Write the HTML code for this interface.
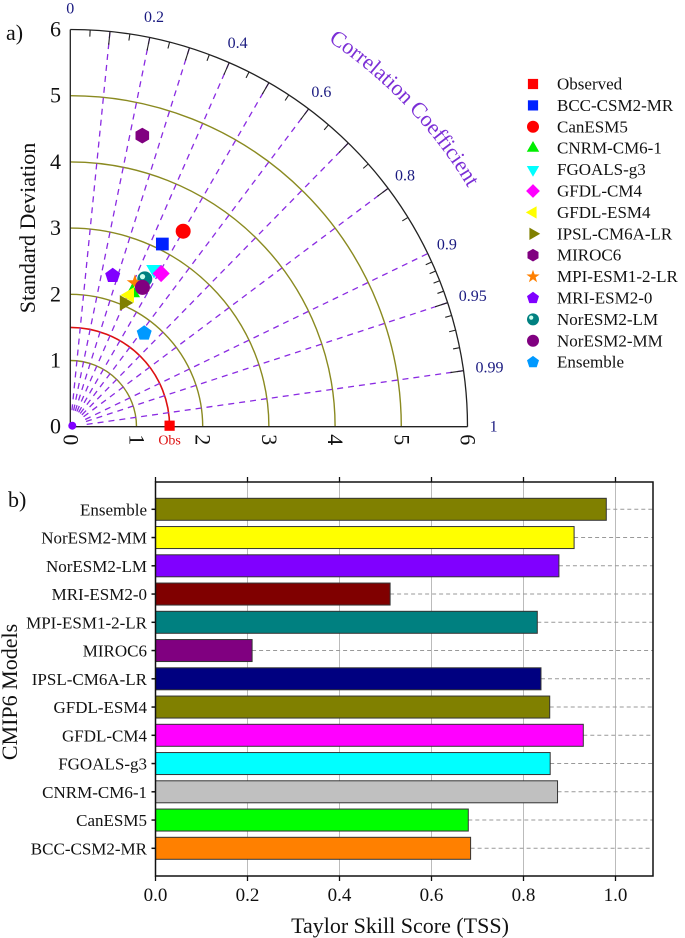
<!DOCTYPE html>
<html><head><meta charset="utf-8"><style>
html,body{margin:0;padding:0;background:#fff}
svg{display:block;font-family:"Liberation Serif",serif}
</style></head><body>
<svg id="fig" width="685" height="938" viewBox="0 0 685 938" xmlns="http://www.w3.org/2000/svg">
<g id="taylor"></g>
<g id="legend"></g>
<g id="bars"></g>
</svg>
<script>
// ---- Taylor diagram data ----
const models = ["Observed","BCC-CSM2-MR","CanESM5","CNRM-CM6-1","FGOALS-g3","GFDL-CM4","GFDL-ESM4","IPSL-CM6A-LR","MIROC6","MPI-ESM1-2-LR","MRI-ESM2-0","NorESM2-LM","NorESM2-MM","Ensemble"];
const stdDev = [1.5,3.09,3.41,2.23,2.69,2.69,2.18,2.04,4.53,2.38,2.37,2.50,2.37,1.80];
const corr   = [1.0,0.45,0.50,0.42,0.47,0.51,0.41,0.40,0.24,0.41,0.27,0.45,0.46,0.62];
const markerShape = ["square","square","circle","triUp","triDown","diamond","triLeft","triRight","hexagon","star","pentagon","sphere","circle","pentagon"];
const markerColor = ["#ff0000","#0022ff","#ff0000","#00ee00","#00ffff","#ff00ff","#ffff00","#808000","#800080","#ff8000","#8000ff","#008080","#800080","#0099ff"];
const corrTicks = [0.1,0.2,0.3,0.4,0.5,0.6,0.7,0.8,0.9,0.95,0.99];
const corrLabels = ["0","0.2","0.4","0.6","0.8","0.9","0.95","0.99","1"];
const sdTicks = [0,1,2,3,4,5,6];
// ---- bar chart data ----
const barCats = ["Ensemble","NorESM2-MM","NorESM2-LM","MRI-ESM2-0","MPI-ESM1-2-LR","MIROC6","IPSL-CM6A-LR","GFDL-ESM4","GFDL-CM4","FGOALS-g3","CNRM-CM6-1","CanESM5","BCC-CSM2-MR"];
const tss = [0.98,0.91,0.877,0.51,0.83,0.21,0.838,0.857,0.93,0.858,0.874,0.68,0.685];
const barColors = ["#808000","#ffff00","#8000ff","#800000","#008080","#800080","#000080","#808000","#ff00ff","#00ffff","#c0c0c0","#00ff00","#ff8000"];
const xTicks = [0,0.2,0.4,0.6,0.8,1.0];

const NS="http://www.w3.org/2000/svg";
function mk(parent,tag,attrs,text){const e=document.createElementNS(NS,tag);for(const k in attrs)e.setAttribute(k,attrs[k]);if(text!==undefined)e.textContent=text;parent.appendChild(e);return e;}

const OX=70.3, OY=426.7, S=66.2, RMAX=6;
const px=(r,c)=>OX+r*c*S;
const py=(r,c)=>OY-r*Math.sqrt(Math.max(0,1-c*c))*S;
const T=document.getElementById('taylor');

[1,2,3,4,5].forEach(r=>{
  const a=mk(T,'path',{d:`M${OX} ${OY-r*S} A${r*S} ${r*S} 0 0 1 ${OX+r*S} ${OY}`,fill:'none',stroke:'#8a8a20','stroke-width':1.4});
  
  
});
const ro=mk(T,'path',{d:`M${OX} ${OY-stdDev[0]*S} A${stdDev[0]*S} ${stdDev[0]*S} 0 0 1 ${OX+stdDev[0]*S} ${OY}`,fill:'none',stroke:'#dd1111','stroke-width':1.6});


corrTicks.forEach(c=>{
  const l=mk(T,'line',{x1:px(0.25,c),y1:py(0.25,c),x2:px(RMAX,c),y2:py(RMAX,c),stroke:'#8a2be2','stroke-width':1.3,'stroke-dasharray':'6,5'});
  
  
});
const oa=mk(T,'path',{d:`M${OX} ${OY-RMAX*S} A${RMAX*S} ${RMAX*S} 0 0 1 ${OX+RMAX*S} ${OY}`,fill:'none',stroke:'#222','stroke-width':1.3});


const ya=mk(T,'line',{x1:OX,y1:OY,x2:OX,y2:OY-RMAX*S,stroke:'#222','stroke-width':1.3});


const xa=mk(T,'line',{x1:OX,y1:OY,x2:OX+RMAX*S,y2:OY,stroke:'#222','stroke-width':1.3});


const tickVals=[];for(let i=1;i<18;i++)tickVals.push(i*0.05);for(let i=91;i<100;i++)tickVals.push(i/100);
tickVals.forEach(c=>{
  const major=corrTicks.some(t=>Math.abs(t-c)<1e-6);
  const len=major?0.2:0.1;
  const t=mk(T,'line',{x1:px(RMAX,c),y1:py(RMAX,c),x2:px(RMAX-len,c),y2:py(RMAX-len,c),stroke:'#222','stroke-width':1.1});
  
  
});
corrLabels.forEach(s=>{
  const c=parseFloat(s), r=6.32;
  const t=mk(T,'text',{x:px(r,c)+(c>0.9?5:0),y:py(r,c)+5,'font-size':16,fill:'#1a1a80','text-anchor':'middle'},s);
  
  
});
sdTicks.forEach(v=>{
  const t=mk(T,'text',{x:61,y:OY-v*S+7,'font-size':22,fill:'#111','text-anchor':'end'},String(v));
  
  
  const t2=mk(T,'text',{x:0,y:0,'font-size':22,fill:'#111','text-anchor':'middle',transform:`translate(${OX+v*S-7},${OY+13}) rotate(90)`},String(v));
  
  
});
const obsL=mk(T,'text',{x:OX+stdDev[0]*S,y:OY+18,'font-size':14,fill:'#dd1111','text-anchor':'middle'},'Obs');


const ylab=mk(T,'text',{x:0,y:0,'font-size':22,fill:'#111','text-anchor':'middle',transform:'translate(35,228) rotate(-90)'},'Standard Deviation');


const pa=mk(T,'text',{x:6,y:40,'font-size':22,fill:'#111'},'a)');


const R2=464;
mk(T,'path',{id:'ccArc',d:`M${OX+R2*Math.cos(0.99)} ${OY-R2*Math.sin(0.99)} A${R2} ${R2} 0 0 1 ${OX+R2*Math.cos(0.2)} ${OY-R2*Math.sin(0.2)}`,fill:'none'});
const ct=mk(T,'text',{'font-size':22,fill:'#7b2fd6'});


mk(ct,'textPath',{href:'#ccArc',startOffset:'4'},'Correlation Coefficient');

function marker(g,shape,color,x,y,s){
  let e;
  const poly=(n,rot,rad)=>{let p=[];for(let i=0;i<n;i++){const a=rot+i*2*Math.PI/n;p.push((x+rad*Math.cos(a)).toFixed(1)+','+(y+rad*Math.sin(a)).toFixed(1));}return p.join(' ');};
  if(shape==='square')e=mk(g,'rect',{x:x-s*0.85,y:y-s*0.85,width:s*1.7,height:s*1.7,fill:color});
  else if(shape==='circle')e=mk(g,'circle',{cx:x,cy:y,r:s,fill:color});
  else if(shape==='sphere'){e=mk(g,'circle',{cx:x,cy:y,r:s,fill:color});mk(g,'circle',{cx:x-s*0.3,cy:y-s*0.3,r:s*0.35,fill:'#cfe'});}
  else if(shape==='triUp')e=mk(g,'polygon',{points:poly(3,-Math.PI/2,s*1.2),fill:color});
  else if(shape==='triDown')e=mk(g,'polygon',{points:poly(3,Math.PI/2,s*1.2),fill:color});
  else if(shape==='triLeft')e=mk(g,'polygon',{points:poly(3,Math.PI,s*1.2),fill:color});
  else if(shape==='triRight')e=mk(g,'polygon',{points:poly(3,0,s*1.2),fill:color});
  else if(shape==='diamond')e=mk(g,'polygon',{points:poly(4,0,s*1.15),fill:color});
  else if(shape==='hexagon')e=mk(g,'polygon',{points:poly(6,Math.PI/6,s*1.05),fill:color});
  else if(shape==='pentagon')e=mk(g,'polygon',{points:poly(5,-Math.PI/2,s*1.05),fill:color});
  else if(shape==='star'){let p=[];for(let i=0;i<10;i++){const a=-Math.PI/2+i*Math.PI/5,rr=i%2?s*0.45:s*1.15;p.push((x+rr*Math.cos(a)).toFixed(1)+','+(y+rr*Math.sin(a)).toFixed(1));}e=mk(g,'polygon',{points:p.join(' '),fill:color});}
  return e;
}
const om=mk(T,'circle',{cx:OX+2,cy:OY-1,r:4,fill:'#8000ff'});


const order=[1,2,8,10,4,5,11,9,3,6,7,12,13,0];
order.forEach(i=>{
  const g=mk(T,'g',{});
  
  
  const x=px(stdDev[i],corr[i]), y=i===0?OY-1:py(stdDev[i],corr[i]);
  marker(g,markerShape[i],markerColor[i],x,y,i===0?6:7.5);
});
const L=document.getElementById('legend');
models.forEach((m,i)=>{
  const g=mk(L,'g',{});
  
  
  const y=84+i*21.4;
  marker(g,markerShape[i],markerColor[i],533,y,6);
  mk(g,'text',{x:557,y:y+5.5,'font-size':17,fill:'#111'},m);
});

// ---- bar chart ----
const B=document.getElementById('bars');
const X0=155.5, XS=460, TOP=482, BOT=876, RIGHT=653, Y0=509.3, STEP=28.25, BH=22;
const bx=v=>X0+v*XS;
xTicks.forEach(v=>{
  if(v>0){const gl=mk(B,'line',{x1:bx(v),y1:TOP,x2:bx(v),y2:BOT,stroke:'#bbb','stroke-width':1});
  
  }
  const t=mk(B,'text',{x:bx(v),y:901,'font-size':19,fill:'#111','text-anchor':'middle'},v.toFixed(1));
  
  
  mk(B,'line',{x1:bx(v),y1:BOT,x2:bx(v),y2:BOT+5,stroke:'#111','stroke-width':1.3});
  mk(B,'line',{x1:bx(v),y1:TOP,x2:bx(v),y2:TOP-5,stroke:'#111','stroke-width':1.3});
});
barCats.forEach((c,i)=>{
  const y=Y0+i*STEP;
  const d=mk(B,'line',{x1:bx(tss[i]),y1:y,x2:RIGHT,y2:y,stroke:'#999','stroke-width':1,'stroke-dasharray':'4,3'});
  
  
  const r=mk(B,'rect',{x:X0,y:y-BH/2,width:bx(tss[i])-X0,height:BH,fill:barColors[i],stroke:'#333','stroke-width':1});
  
  
  const t=mk(B,'text',{x:147,y:y+6,'font-size':17,fill:'#111','text-anchor':'end'},c);
  
  
  mk(B,'line',{x1:X0-4,y1:y,x2:X0,y2:y,stroke:'#111','stroke-width':1.5});
});
const fr=mk(B,'rect',{x:X0,y:TOP,width:RIGHT-X0,height:BOT-TOP,fill:'none',stroke:'#111','stroke-width':1.5});


const xt=mk(B,'text',{x:400,y:933,'font-size':22,fill:'#111','text-anchor':'middle'},'Taylor Skill Score (TSS)');


const yt=mk(B,'text',{x:0,y:0,'font-size':22,fill:'#111','text-anchor':'middle',transform:'translate(17,692) rotate(-90)'},'CMIP6 Models');


const pb=mk(B,'text',{x:8,y:507,'font-size':22,fill:'#111'},'b)');


</script>
</body></html>
